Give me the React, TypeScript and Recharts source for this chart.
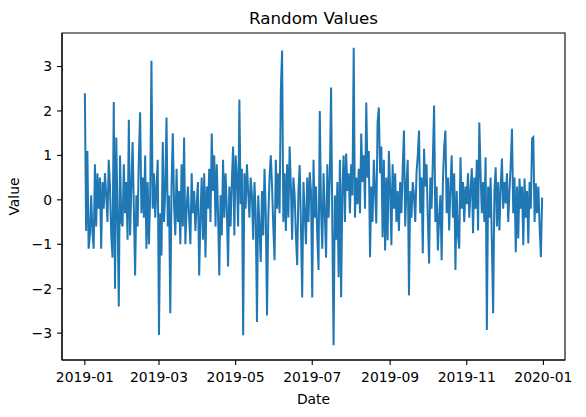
import { LineChart, Line, XAxis, YAxis, ReferenceArea, Label } from 'recharts'

const DAY = 86400000
const START = Date.UTC(2019, 0, 1)

// month tick labels on the date axis
const tickLabels = ['2019-01', '2019-03', '2019-05', '2019-07', '2019-09', '2019-11', '2020-01']
const yTicks = [-3, -2, -1, 0, 1, 2, 3]

// one value per day (rows of 10 days)
const values = [
  2.4, -0.7, 1.1, -1.1, -0.8, 0.1, -0.7, -1.1, 0.8, -0.6,
  0.6, -0.2, 0.5, -1.1, 0.4, -0.2, 0.6, 0.1, -0.5, 0.9,
  0.3, -0.8, -1.3, 2.2, -2.0, 1.4, -0.3, -2.4, 1.0, -0.5,
  -0.6, 0.8, -0.3, 0.4, -0.9, 1.8, -0.8, 0.3, 1.3, -0.2,
  -1.7, 0.1, -0.6, 1.0, 1.97, -0.3, 0.5, -0.4, 1.0, -1.1,
  0.4, -1.0, 0.1, 3.13, -0.2, 0.6, -0.4, 0.3, 0.9, -3.04,
  -0.3, -1.25, 1.3, -0.5, 0.2, 1.85, -0.6, 0.1, -2.55, 0.3,
  1.5, -0.1, -0.8, 0.7, -0.5, 0.2, -1.0, 0.8, -0.6, 1.4,
  -1.0, -0.2, 0.3, -0.4, -1.0, 0.6, -0.3, 0.2, -0.7, -0.1,
  0.4, -1.7, -0.4, 0.5, -0.9, 0.6, -1.3, 0.3, -0.2, 0.7,
  -0.5, 1.49, 0.2, 1.0, -0.6, 0.8, -0.3, -1.7, 0.1, -0.8,
  0.9, -0.4, 0.6, -0.2, -1.5, 0.3, -0.6, 0.4, 1.2, -0.8,
  1.0, 0.5, -0.6, 2.26, -0.1, 0.7, -3.05, 0.6, -0.2, 0.8,
  0.2, -0.4, 0.5, 0.1, -0.9, 0.4, -0.3, -2.75, 0.1, -0.6,
  -1.4, 0.2, -0.8, 0.7, -0.3, -2.6, -0.4, 0.5, 1.0, 0.3,
  -0.6, -1.36, 0.9, -0.2, 0.6, -0.3, 2.46, 3.36, -0.5, 0.6,
  -0.7, 0.8, -0.4, 1.2, 0.3, -0.9, 0.5, 0.1, -0.8, -1.47,
  0.2, 0.78, -0.6, -2.2, 0.4, -0.3, -1.0, 0.5, -0.5, 0.62,
  0.2, -2.2, 0.9, -0.4, 0.3, -0.8, -1.58, 2.0, -0.2, -1.1,
  0.6, -0.3, -1.3, 0.8, -0.4, 0.5, 2.53, -0.6, -3.27, 0.1,
  -0.9, 0.4, -1.74, 0.9, -2.19, 0.3, 1.0, -0.5, 1.04, 0.2,
  0.6, -0.3, 0.8, 0.1, 3.42, -0.4, 0.5, -0.1, 0.7, -0.3,
  1.49, 0.4, 1.0, -0.2, 2.19, 0.5, 1.1, -1.29, 0.3, -0.5,
  0.9, 0.2, -0.53, 1.74, 2.08, 0.6, 1.2, -0.84, 0.9, -1.14,
  0.5, -0.91, 1.1, 0.3, -1.02, 0.8, -0.2, 0.6, -0.5, 0.2,
  -0.7, 0.4, -0.3, 0.7, 1.56, -0.6, 0.3, 0.9, -2.15, 0.2,
  -0.4, 0.4, 0.1, -0.5, 0.6, 1.0, 1.56, -0.3, 0.5, -1.2,
  1.15, 0.3, 0.8, -0.4, -1.43, 0.5, -0.2, 0.9, 2.12, -0.5,
  0.3, -1.14, -0.4, 0.1, -1.36, 0.4, 1.18, 1.56, -0.3, 0.5,
  -0.69, 0.3, 1.0, -0.4, 0.6, -1.58, 0.2, -0.8, -1.1, 0.96,
  -0.2, 0.4, -0.5, 0.3, -0.1, 0.6, -0.4, 0.2, 0.71, -0.75,
  0.5, -0.2, 0.9, -0.69, 1.74, 0.6, -0.3, 0.4, -0.5, 0.96,
  -2.93, 0.3, -0.4, 0.5, -1.0, -2.55, 0.2, 0.73, -0.6, 0.4,
  -0.69, 0.3, 0.93, -0.2, 0.4, -0.08, 0.6, -0.5, 0.2, 0.8,
  1.6, -0.3, 0.5, -1.18, 0.3, -0.87, 0.48, -0.2, 0.3, -1.02,
  0.48, -0.4, 0.2, -0.98, 0.4, -0.2, 1.38, 1.41, -0.5, 0.37,
  -0.3, 0.3, -0.6, -1.29, 0.05,
]

const data = values.map((v, i) => ({ date: START + i * DAY, value: v }))

const xTicks = tickLabels.map((s) => {
  const [y, m] = s.split('-').map(Number)
  return Date.UTC(y, m - 1, 1)
})

// matplotlib-style 5% margins
const first = data[0].date
const last = data[data.length - 1].date
const xPad = (last - first) * 0.05
const xDomain: [number, number] = [first - xPad, last + xPad]
const yMin = Math.min(...values)
const yMax = Math.max(...values)
const yPad = (yMax - yMin) * 0.05
const yDomain: [number, number] = [yMin - yPad, yMax + yPad]

const font = 'DejaVu Sans, sans-serif'
const tickStyle = { fontSize: 13.9, fill: '#000', fontFamily: font }

function fmtDate(t: number) {
  const d = new Date(t)
  return `${d.getUTCFullYear()}-${String(d.getUTCMonth() + 1).padStart(2, '0')}`
}

function fmtValue(v: number) {
  return v < 0 ? `\u2212${Math.abs(v)}` : `${v}`
}

export default function App() {
  return (
    <div style={{ position: 'absolute', left: 0, top: 0, width: 586, height: 417, background: '#fff', fontFamily: font }}>
      <div
        style={{
          position: 'absolute',
          left: 62,
          width: 503,
          top: 8,
          textAlign: 'center',
          fontSize: 16.7,
          lineHeight: '20px',
          color: '#000',
        }}
      >
        Random Values
      </div>
      <LineChart width={586} height={417} data={data} margin={{ top: 33, right: 21, bottom: 0, left: 0 }}>
        <XAxis
          dataKey="date"
          type="number"
          domain={xDomain}
          ticks={xTicks}
          tickFormatter={fmtDate}
          allowDataOverflow
          height={57}
          tickSize={5}
          tickMargin={7}
          tick={tickStyle}
          axisLine={{ stroke: '#000', strokeWidth: 1.1 }}
          tickLine={{ stroke: '#000', strokeWidth: 1.1 }}
        >
          <Label
            content={(props: any) => {
              const vb = props.viewBox
              return (
                <text x={vb.x + vb.width / 2} y={vb.y + 44} textAnchor="middle" fontSize={13.9} fontFamily={font} fill="#000">
                  Date
                </text>
              )
            }}
          />
        </XAxis>
        <YAxis
          type="number"
          domain={yDomain}
          ticks={yTicks}
          tickFormatter={fmtValue}
          allowDataOverflow
          width={62}
          tickSize={5}
          tickMargin={5}
          tick={tickStyle}
          axisLine={{ stroke: '#000', strokeWidth: 1.1 }}
          tickLine={{ stroke: '#000', strokeWidth: 1.1 }}
        >
          <Label
            content={(props: any) => {
              const vb = props.viewBox
              const cy = vb.y + vb.height / 2
              return (
                <text x={19} y={cy} transform={`rotate(-90 19 ${cy})`} textAnchor="middle" fontSize={13.9} fontFamily={font} fill="#000">
                  Value
                </text>
              )
            }}
          />
        </YAxis>
        <ReferenceArea x1={xDomain[0]} x2={xDomain[1]} y1={yDomain[0]} y2={yDomain[1]} fill="none" stroke="#000" strokeWidth={1.1} />
        <Line
          dataKey="value"
          type="linear"
          stroke="#1f77b4"
          strokeWidth={2}
          dot={false}
          isAnimationActive={false}
        />
      </LineChart>
    </div>
  )
}
